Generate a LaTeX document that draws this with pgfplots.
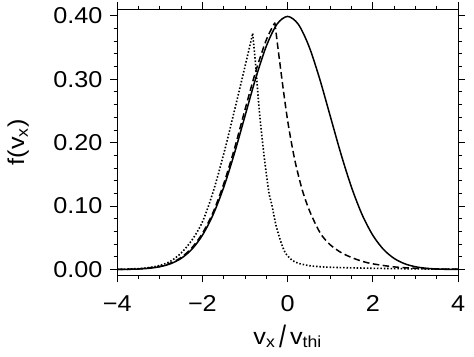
\documentclass[border=0pt]{standalone}
\usepackage{fontspec}
\setmainfont{Liberation Sans}[FakeStretch=1.1]
\usepackage{pgfplots}
\pgfplotsset{compat=1.18}
\begin{document}
\begin{tikzpicture}
\fontsize{23bp}{26bp}\selectfont
\begin{axis}[
  scale only axis, width=342bp, height=267.3bp,
  xmin=-4, xmax=4, ymin=-0.0094, ymax=0.4105,
  xtick={-4,-2,0,2,4}, xticklabels={−4,−2,0,2,4},
  ytick={0,0.1,0.2,0.3,0.4}, yticklabels={0.00,0.10,0.20,0.30,0.40},
  minor x tick num=3, minor y tick num=4,
  tick align=outside,
  major tick length=7bp, minor tick length=3.5bp,
  every tick/.style={black, line width=0.8bp},
  axis line style={line width=0.8bp},
  tick label style={font=\fontsize{23bp}{26bp}\selectfont},
  xticklabel style={yshift=-5bp},
  label style={font=\fontsize{23bp}{26bp}\selectfont},
  ylabel={f(v\textsubscript{x})},
  xlabel={v\textsubscript{x}\,\raisebox{-3bp}{\scalebox{1}[1.35]{/}}\,v\textsubscript{thi}},
  ylabel style={at={(axis description cs:-0.29,0.5)}, anchor=center},
  xlabel style={at={(axis description cs:0.5,-0.228)}, anchor=center},
  clip=false,
]
% solid: Maxwellian
\addplot[black, line width=1.5bp, smooth] coordinates {
(-4,0.00013) (-3.75,0.00035) (-3.5,0.00087) (-3.25,0.00203) (-3,0.00443)
(-2.75,0.00909) (-2.5,0.01753) (-2.25,0.03174) (-2,0.05399) (-1.75,0.08628)
(-1.5,0.12952) (-1.25,0.18265) (-1,0.24197) (-0.75,0.30114) (-0.5,0.35207)
(-0.25,0.38667) (0,0.39894) (0.25,0.38667) (0.5,0.35207) (0.75,0.30114)
(1,0.24197) (1.25,0.18265) (1.5,0.12952) (1.75,0.08628) (2,0.05399)
(2.25,0.03174) (2.5,0.01753) (2.75,0.00909) (3,0.00443) (3.25,0.00203)
(3.5,0.00087) (3.75,0.00035) (4,0.00013)};
% dashed: left branch
\addplot[black, line width=1.5bp, smooth, dash pattern=on 6.5bp off 3.5bp] coordinates {
(-4,0.0002) (-3.5,0.0011) (-3,0.0050) (-2.75,0.0100) (-2.5,0.0190)
(-2.25,0.034) (-2,0.057) (-1.75,0.090) (-1.5,0.135) (-1.25,0.190)
(-1,0.252) (-0.75,0.312) (-0.5,0.362) (-0.3,0.389)};
% dashed: right branch
\addplot[black, line width=1.5bp, smooth, dash pattern=on 6.5bp off 3.5bp] coordinates {
(-0.3,0.389) (-0.2,0.335) (-0.1,0.283) (0,0.235) (0.1,0.196) (0.2,0.163)
(0.35,0.124) (0.5,0.095) (0.66,0.071) (0.8,0.054) (1,0.039) (1.25,0.027)
(1.5,0.019) (1.75,0.013) (2,0.0090) (2.5,0.0042) (3,0.0020) (3.5,0.0010) (4,0.0005)};
% dotted: left branch
\addplot[black, line width=1.6bp, smooth, dash pattern=on 1.5bp off 1.9bp] coordinates {
(-4,0.0003) (-3.5,0.0015) (-3.25,0.0032) (-3,0.0065) (-2.75,0.013)
(-2.5,0.026) (-2.25,0.046) (-2,0.075) (-1.75,0.122) (-1.5,0.182)
(-1.25,0.250) (-1,0.320) (-0.82,0.372)};
% dotted: right branch
\addplot[black, line width=1.6bp, smooth, dash pattern=on 1.5bp off 1.9bp] coordinates {
(-0.82,0.372) (-0.75,0.322) (-0.66,0.247) (-0.55,0.178) (-0.44,0.122)
(-0.37,0.102) (-0.27,0.069) (-0.15,0.042) (-0.05,0.026) (0.1,0.015)
(0.25,0.010) (0.5,0.0062) (0.75,0.0045) (1,0.0036) (1.5,0.0027) (2,0.0020)
(2.5,0.0015) (3,0.0011) (3.5,0.0008) (4,0.0006)};
\end{axis}
\useasboundingbox (-116bp,-81.7bp) rectangle (358bp,273.3bp);
\end{tikzpicture}
\end{document}
